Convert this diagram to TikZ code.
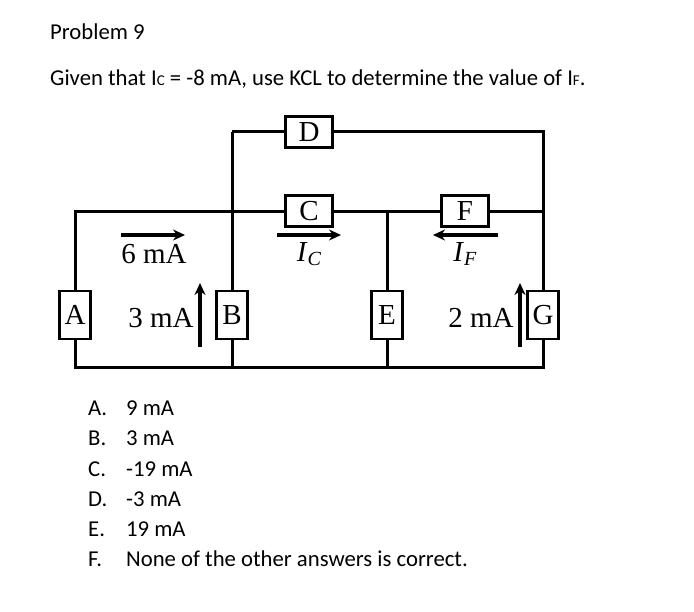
\documentclass[tikz,border=0pt]{standalone}
\usetikzlibrary{arrows.meta}
\usepackage{fontspec}
\setmainfont{Carlito}
\newfontfamily\tms{Liberation Serif}
\begin{document}
\begin{tikzpicture}[x=1pt,y=-1pt,
  wire/.style={line width=3pt},
  box/.style={draw,line width=2.8pt,fill=white,inner sep=0pt,font=\tms\fontsize{29}{30}\selectfont},
  hbox/.style={box,minimum width=47pt,minimum height=31pt},
  vbox/.style={box,minimum width=31pt,minimum height=48pt},
  lab/.style={font=\tms\fontsize{29}{30}\selectfont,inner sep=0pt},
  arr/.style={line width=3.4pt,-{Stealth[length=12pt,width=11pt]}},
  txt/.style={anchor=base west,inner sep=0pt,font=\fontsize{22.7}{26}\selectfont}]
\useasboundingbox (0,0) rectangle (694,612);
\coordinate (tl) at (232,132); \coordinate (tr) at (543,132);
\coordinate (ml) at (75,212); \coordinate (mb) at (232,212); \coordinate (me) at (387,212); \coordinate (mr) at (543,212);
\coordinate (bl) at (75,368); \coordinate (bb) at (232,368); \coordinate (be) at (387,368); \coordinate (br) at (543,368);
\draw[wire] (tl) -- (tr) -- (br) -- (bl) -- (ml) -- (mr);
\draw[wire] (tl) -- (bb); \draw[wire] (me) -- (be);
\node[hbox] (D) at (309,132) {D};
\node[hbox] (C) at (309,211) {C};
\node[hbox] (F) at (465,211) {F};
\node[vbox] (A) at (75,315) {A};
\node[vbox] (B) at (232,315) {B};
\node[vbox] (E) at (387,315) {E};
\node[vbox] (G) at (543,315) {G};
\coordinate (a1s) at (121,235); \coordinate (a1e) at (185,235);
\draw[arr] (a1s) -- (a1e);
\node[lab] (l6) at (154,254) {6 mA};
\coordinate (a2s) at (277,235); \coordinate (a2e) at (341,235);
\draw[arr] (a2s) -- (a2e);
\node[lab] (lc) at (309,254) {\textit{I}\raisebox{-4pt}{\fontsize{20}{20}\selectfont\textit{C}}};
\coordinate (a3s) at (498,235); \coordinate (a3e) at (433,235);
\draw[arr] (a3s) -- (a3e);
\node[lab] (lf) at (465,254) {\textit{I}\raisebox{-4pt}{\fontsize{20}{20}\selectfont\textit{F}}};
\coordinate (a4s) at (200,347); \coordinate (a4e) at (200,283);
\draw[arr] (a4s) -- (a4e);
\node[lab] (l3) at (161,318) {3 mA};
\coordinate (a5s) at (520,347); \coordinate (a5e) at (520,283);
\draw[arr] (a5s) -- (a5e);
\node[lab] (l2) at (481,318) {2 mA};
\node[txt] (p) at (50,40) {Problem 9};
\node[txt] (q) at (50,86) {Given that I{\fontsize{15}{15}\selectfont C} = -8 mA, use KCL to determine the value of I{\fontsize{15}{15}\selectfont F}.};
\foreach \l/\t [count=\i] in {A./9 mA,B./3 mA,C./-19 mA,D./-3 mA,E./19 mA,F./None of the other answers is correct.}{
  \node[txt] (o\i) at (88,{386+30*\i}) {\l};
  \node[txt] (t\i) at (126,{386+30*\i}) {\t};
}
\end{tikzpicture}
\end{document}
